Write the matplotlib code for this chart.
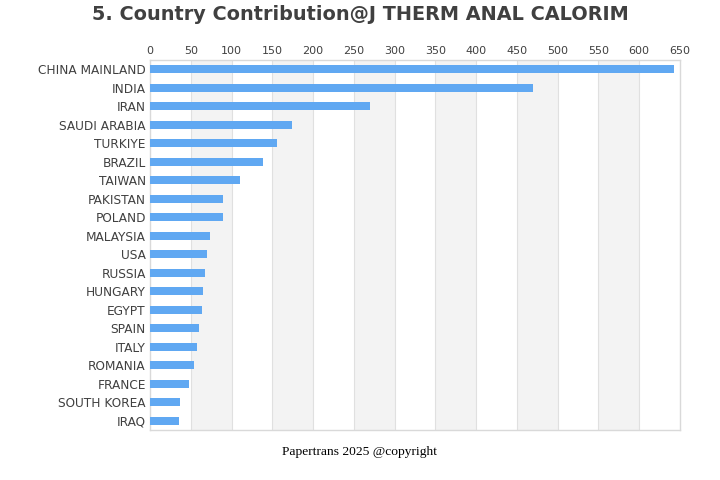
import matplotlib
matplotlib.use("Agg")
import matplotlib.pyplot as plt

countries = ["CHINA MAINLAND", "INDIA", "IRAN", "SAUDI ARABIA", "TURKIYE", "BRAZIL",
             "TAIWAN", "PAKISTAN", "POLAND", "MALAYSIA", "USA", "RUSSIA", "HUNGARY",
             "EGYPT", "SPAIN", "ITALY", "ROMANIA", "FRANCE", "SOUTH KOREA", "IRAQ"]
values = [643, 470, 270, 174, 156, 139, 110, 90, 89, 74, 70, 68, 65, 64, 60, 58, 54, 48, 37, 36]
xticks = list(range(0, 651, 50))

fig = plt.figure(figsize=(7.2, 4.8), dpi=100)
ax = fig.add_axes([150/720, 1 - 430/480, 530/720, 370/480])

ypos = list(range(len(countries)))
ax.barh(ypos, values, height=0.45, color="#60a8f2", zorder=3)
ax.set_yticks(ypos)
ax.set_yticklabels(countries, fontsize=8.7, color="#404040")
ax.set_ylim(len(countries) - 0.5, -0.5)
ax.set_xlim(0, 650)
ax.set_xticks(xticks)
ax.set_xticklabels([str(t) for t in xticks], fontsize=8, color="#404040")
ax.xaxis.tick_top()
ax.tick_params(axis="both", length=0, pad=3)

for i, t in enumerate(xticks[:-1]):
    if i % 2 == 1:
        ax.axvspan(t, t + 50, color="#f3f3f3", zorder=0, lw=0)
for t in xticks[1:-1]:
    ax.axvline(t, color="#e0e0e0", lw=0.8, zorder=1)
for s in ax.spines.values():
    s.set_color("#d9d9d9")
    s.set_linewidth(1)

fig.text(0.5, 1 - 14/480, "5. Country Contribution@J THERM ANAL CALORIM", ha="center", va="center",
         fontsize=13.9, fontweight="bold", color="#404040")
fig.text(0.5, 1 - 452/480, "Papertrans 2025 @copyright", ha="center", va="center",
         fontsize=9.7, family="Liberation Serif", color="#000000")

fig.savefig("out.png", dpi=100)
